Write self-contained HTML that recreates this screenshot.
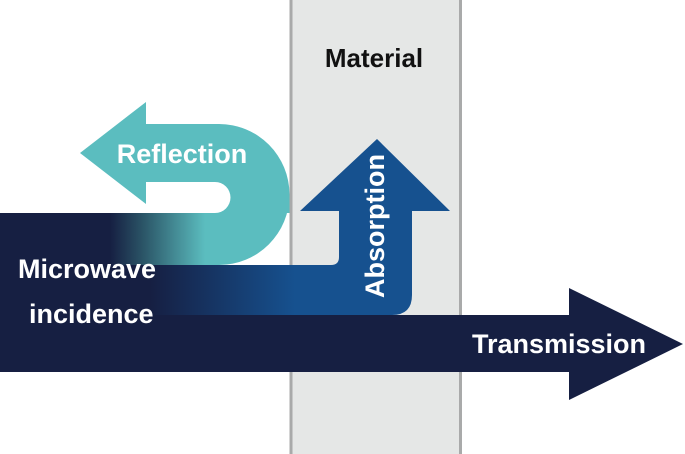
<!DOCTYPE html>
<html><head><meta charset="utf-8"><style>
html,body{margin:0;padding:0;background:#fff;}
svg{display:block;}
text{font-family:"Liberation Sans",Arial,sans-serif;font-weight:bold;}
</style></head><body>
<svg width="685" height="454" viewBox="0 0 685 454" xmlns="http://www.w3.org/2000/svg">
<defs>
<linearGradient id="gt" gradientUnits="userSpaceOnUse" x1="110" y1="0" x2="205" y2="0">
<stop offset="0" stop-color="#161f42"/><stop offset="0.35" stop-color="#2b5567"/><stop offset="1" stop-color="#5bbdbf"/>
</linearGradient>
<linearGradient id="gb" gradientUnits="userSpaceOnUse" x1="150" y1="0" x2="295" y2="0">
<stop offset="0" stop-color="#161f42"/><stop offset="1" stop-color="#16518f"/>
</linearGradient>
</defs>
<rect x="291" y="0" width="170" height="454" fill="#e5e7e6"/>
<rect x="289.5" y="0" width="3" height="454" fill="#a9aaaa"/>
<rect x="459" y="0" width="3" height="454" fill="#a9aaaa"/>
<rect x="0" y="213" width="150" height="159" fill="#161f42"/>
<path d="M0,315 H569 V288 L683,344 L569,400 V372 H0 Z" fill="#161f42"/>
<path d="M146,124 H219 A70.5 70.5 0 0 1 289.5,194.5 V213 H215 A15.5 15.5 0 0 0 215,182 H146 V204 L80,153 L146,102 Z" fill="#5bbdbf"/>
<path d="M0,213 H289.5 V194.5 A70.5 70.5 0 0 1 219,265 H0 Z" fill="url(#gt)"/>
<path d="M0,265 H331 Q339,265 339,257 V211 H300 L377,139 L450,211 H412 V295 Q412,315 392,315 H0 Z" fill="url(#gb)"/>
<text x="374" y="67" font-size="26" text-anchor="middle" fill="#111">Material</text>
<text x="182" y="163" font-size="27" text-anchor="middle" fill="#fff">Reflection</text>
<text x="18" y="278" font-size="27" fill="#fff">Microwave</text>
<text x="29" y="323" font-size="27" fill="#fff">incidence</text>
<text x="0" y="0" font-size="27" text-anchor="middle" fill="#fff" transform="translate(384,226) rotate(-90)">Absorption</text>
<text x="559" y="353" font-size="27" text-anchor="middle" fill="#fff">Transmission</text>
</svg>
</body></html>
